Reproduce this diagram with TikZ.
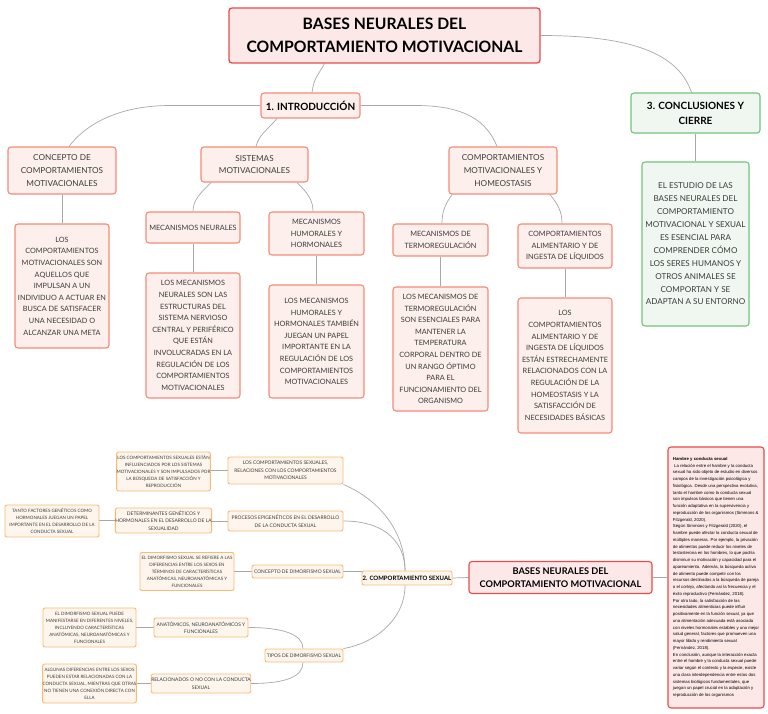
\documentclass[tikz,border=0pt]{standalone}
\usepackage{fontspec}
\setmainfont{Lato}
\newfontfamily\notefont{Liberation Sans}
\pgfdeclarelayer{bg}
\pgfsetlayers{bg,main}
\definecolor{redB}{HTML}{E84B4B}
\definecolor{redF}{HTML}{FDE8E8}
\definecolor{salB}{HTML}{F58A78}
\definecolor{salF}{HTML}{FDF0EC}
\definecolor{grnB}{HTML}{72C47A}
\definecolor{grnF}{HTML}{F0F7F0}
\definecolor{orgB}{HTML}{F9BB74}
\definecolor{orgF}{HTML}{FEF6EC}
\definecolor{lineC}{HTML}{A8A8A8}
\definecolor{txtC}{HTML}{3A3A3A}
\begin{document}
\begin{tikzpicture}[x=1pt,y=-1pt,
  box/.style={rounded corners=3pt, align=center, inner sep=0pt, text=txtC},
  ttl/.style={box, draw=redB, fill=redF, line width=1.3pt, text=black,
    font=\bfseries\fontsize{15.7}{23}\selectfont},
  sec/.style={box, draw=salB, fill=salF, line width=1.1pt, text=black,
    font=\bfseries\fontsize{10}{15}\selectfont},
  grnsec/.style={box, draw=grnB, fill=grnF, line width=1.1pt, text=black,
    font=\bfseries\fontsize{10}{15}\selectfont},
  grntxt/.style={box, draw=grnB, fill=grnF, line width=1.1pt,
    font=\fontsize{8.1}{12.9}\selectfont},
  hdr/.style={box, draw=salB, fill=salF, line width=1.1pt,
    font=\fontsize{8.2}{12.8}\selectfont},
  txt/.style={box, draw=salB, fill=salF, line width=1.1pt,
    font=\fontsize{7.3}{11.6}\selectfont},
  lowhdr/.style={box, rounded corners=2pt, draw=orgB, fill=orgF, line width=0.9pt,
    font=\fontsize{4.9}{7.5}\selectfont},
  lowtxt/.style={box, rounded corners=2pt, draw=orgB, fill=orgF, line width=0.9pt,
    font=\fontsize{4.5}{7}\selectfont},
  lowsec/.style={box, rounded corners=2pt, draw=orgB, fill=orgF, line width=0.9pt, text=black,
    font=\bfseries\fontsize{6}{8}\selectfont},
  redsec/.style={box, draw=redB, fill=redF, line width=1.1pt, text=black,
    font=\bfseries\fontsize{9.2}{13}\selectfont},
  notebox/.style={box, draw=redB, fill=redF, line width=1.1pt, align=left, text=black,
    font=\notefont\fontsize{4.3}{6.75}\selectfont},
  conn/.style={draw=lineC, line width=0.7pt}
]
\useasboundingbox (0,0) rectangle (768,714);

% ---------- upper part ----------
\node[ttl, minimum width=311pt, minimum height=55pt] (title) at (384.5,35.5)
  {BASES NEURALES DEL\\COMPORTAMIENTO MOTIVACIONAL};
\node[sec, minimum width=99pt, minimum height=25pt] (intro) at (310.5,105.5) {1. INTRODUCCIÓN};
\node[grnsec, minimum width=129pt, minimum height=40pt] (concl) at (695.5,113) {3. CONCLUSIONES Y\\CIERRE};
\node[grntxt, minimum width=107pt, minimum height=164pt] (conclTxt) at (695.5,244)
  {EL ESTUDIO DE LAS\\BASES NEURALES DEL\\COMPORTAMIENTO\\MOTIVACIONAL Y SEXUAL\\ES ESENCIAL PARA\\COMPRENDER CÓMO\\LOS SERES HUMANOS Y\\OTROS ANIMALES SE\\COMPORTAN Y SE\\ADAPTAN A SU ENTORNO};

\node[hdr, minimum width=108pt, minimum height=47pt] (concepto) at (62,170.5)
  {CONCEPTO DE\\COMPORTAMIENTOS\\MOTIVACIONALES};
\node[hdr, minimum width=107pt, minimum height=35pt] (sistemas) at (254.5,164.5)
  {SISTEMAS\\MOTIVACIONALES};
\node[hdr, minimum width=108pt, minimum height=47pt] (homeo) at (503,170.5)
  {COMPORTAMIENTOS\\MOTIVACIONALES Y\\HOMEOSTASIS};

\node[txt, minimum width=94pt, minimum height=124pt] (conceptoTxt) at (62,286)
  {LOS\\COMPORTAMIENTOS\\MOTIVACIONALES SON\\AQUELLOS QUE\\IMPULSAN A UN\\INDIVIDUO A ACTUAR EN\\BUSCA DE SATISFACER\\UNA NECESIDAD O\\ALCANZAR UNA META};
\node[txt, minimum width=94pt, minimum height=31pt] (neural) at (193,227.5) {MECANISMOS NEURALES};
\node[txt, minimum width=95pt, minimum height=43pt] (humoral) at (316.5,233.5)
  {MECANISMOS\\HUMORALES Y\\HORMONALES};
\node[txt, minimum width=94pt, minimum height=125pt] (neuralTxt) at (193,335.5)
  {LOS MECANISMOS\\NEURALES SON LAS\\ESTRUCTURAS DEL\\SISTEMA NERVIOSO\\CENTRAL Y PERIFÉRICO\\QUE ESTÁN\\INVOLUCRADAS EN LA\\REGULACIÓN DE LOS\\COMPORTAMIENTOS\\MOTIVACIONALES};
\node[txt, minimum width=95pt, minimum height=113pt] (humoralTxt) at (316.5,341.5)
  {LOS MECANISMOS\\HUMORALES Y\\HORMONALES TAMBIÉN\\JUEGAN UN PAPEL\\IMPORTANTE EN LA\\REGULACIÓN DE LOS\\COMPORTAMIENTOS\\MOTIVACIONALES};
\node[txt, minimum width=95pt, minimum height=32pt] (termo) at (440.5,240)
  {MECANISMOS DE\\TERMOREGULACIÓN};
\node[txt, minimum width=94pt, minimum height=44pt] (alim) at (565,246)
  {COMPORTAMIENTOS\\ALIMENTARIO Y DE\\INGESTA DE LÍQUIDOS};
\node[txt, minimum width=95pt, minimum height=124pt] (termoTxt) at (440.5,349)
  {LOS MECANISMOS DE\\TERMOREGULACIÓN\\SON ESENCIALES PARA\\MANTENER LA\\TEMPERATURA\\CORPORAL DENTRO DE\\UN RANGO ÓPTIMO\\PARA EL\\FUNCIONAMIENTO DEL\\ORGANISMO};
\node[txt, minimum width=94pt, minimum height=135pt] (alimTxt) at (565,365.5)
  {LOS\\COMPORTAMIENTOS\\ALIMENTARIO Y DE\\INGESTA DE LÍQUIDOS\\ESTÁN ESTRECHAMENTE\\RELACIONADOS CON LA\\REGULACIÓN DE LA\\HOMEOSTASIS Y LA\\SATISFACCIÓN DE\\NECESIDADES BÁSICAS};

% ---------- lower part ----------
\node[lowhdr, minimum width=115pt, minimum height=27pt] (sexRel) at (285.5,470.5)
  {LOS COMPORTAMIENTOS SEXUALES,\\RELACIONES CON LOS COMPORTAMIENTOS\\MOTIVACIONALES};
\node[lowtxt, minimum width=93pt, minimum height=39pt] (sexTxt) at (163.5,471.5)
  {LOS COMPORTAMIENTOS SEXUALES ESTÁN\\INFLUENCIADOS POR LOS SISTEMAS\\MOTIVACIONALES Y SON IMPULSADOS POR\\LA BÚSQUEDA DE SATISFACCIÓN Y\\REPRODUCCIÓN};
\node[lowhdr, minimum width=115pt, minimum height=20pt] (epi) at (285.5,521)
  {PROCESOS EPIGENÉTICOS EN EL DESARROLLO\\DE LA CONDUCTA SEXUAL};
\node[lowhdr, minimum width=93pt, minimum height=25pt] (det) at (163.5,520.5)
  {DETERMINANTES GENÉTICOS Y\\HORMONALES EN EL DESARROLLO DE LA\\SEXUALIDAD};
\node[lowtxt, minimum width=94pt, minimum height=32pt] (tanto) at (52,521)
  {TANTO FACTORES GENÉTICOS COMO\\HORMONALES JUEGAN UN PAPEL\\IMPORTANTE EN EL DESARROLLO DE LA\\CONDUCTA SEXUAL};
\node[lowhdr, minimum width=91pt, minimum height=13pt] (cdim) at (297.5,571.5)
  {CONCEPTO DE DIMORFISMO SEXUAL};
\node[lowtxt, minimum width=94pt, minimum height=38pt] (cdimTxt) at (187,571.5)
  {EL DIMORFISMO SEXUAL SE REFIERE A LAS\\DIFERENCIAS ENTRE LOS SEXOS EN\\TÉRMINOS DE CARACTERÍSTICAS\\ANATÓMICAS, NEUROANATÓMICAS Y\\FUNCIONALES};
\node[lowsec, minimum width=90pt, minimum height=14pt] (comp2) at (407,578) {2. COMPORTAMIENTO SEXUAL};
\node[redsec, minimum width=183pt, minimum height=32pt] (bases2) at (560.5,577.5)
  {BASES NEURALES DEL\\COMPORTAMIENTO MOTIVACIONAL};
\node[lowhdr, minimum width=78pt, minimum height=13pt] (tipos) at (304,655.5) {TIPOS DE DIMORFISMO SEXUAL};
\node[lowhdr, minimum width=94pt, minimum height=19pt] (anat) at (201,627.5)
  {ANATÓMICOS, NEUROANATÓMICOS Y\\FUNCIONALES};
\node[lowhdr, minimum width=94pt, minimum height=19pt] (rel) at (201,683.5)
  {RELACIONADOS O NO CON LA CONDUCTA\\SEXUAL};
\node[lowtxt, minimum width=93pt, minimum height=39pt] (anatTxt) at (89.5,627.5)
  {EL DIMORFISMO SEXUAL PUEDE\\MANIFESTARSE EN DIFERENTES NIVELES,\\INCLUYENDO CARACTERÍSTICAS\\ANATÓMICAS, NEUROANATÓMICAS Y\\FUNCIONALES};
\node[lowtxt, minimum width=93pt, minimum height=39pt] (relTxt) at (89.5,683.5)
  {ALGUNAS DIFERENCIAS ENTRE LOS SEXOS\\PUEDEN ESTAR RELACIONADAS CON LA\\CONDUCTA SEXUAL, MIENTRAS QUE OTRAS\\NO TIENEN UNA CONEXIÓN DIRECTA CON\\ELLA};

\node[notebox, minimum width=96pt, minimum height=261pt] (note) at (716,577.5)
  {\textbf{Hambre y conducta sexual}\\
  \hspace{1.2pt}La relación entre el hambre y la conducta\\
  sexual ha sido objeto de estudio en diversos\\
  campos de la investigación psicológica y\\
  fisiológica. Desde una perspectiva evolutiva,\\
  tanto el hambre como la conducta sexual\\
  son impulsos básicos que tienen una\\
  función adaptativa en la supervivencia y\\
  reproducción de los organismos (Simmons \&\\
  Fitzgerald, 2020).\\
  Según Simmons y Fitzgerald (2020), el\\
  hambre puede afectar la conducta sexual de\\
  múltiples maneras. Por ejemplo, la privación\\
  de alimentos puede reducir los niveles de\\
  testosterona en los hombres, lo que podría\\
  disminuir su motivación y capacidad para el\\
  apareamiento. Además, la búsqueda activa\\
  de alimento puede competir con los\\
  recursos destinados a la búsqueda de pareja\\
  o el cortejo, afectando así la frecuencia y el\\
  éxito reproductivo (Fernández, 2018).\\
  Por otro lado, la satisfacción de las\\
  necesidades alimenticias puede influir\\
  positivamente en la función sexual, ya que\\
  una alimentación adecuada está asociada\\
  con niveles hormonales estables y una mejor\\
  salud general, factores que promueven una\\
  mayor libido y rendimiento sexual\\
  (Fernández, 2018).\\
  En conclusión, aunque la interacción exacta\\
  entre el hambre y la conducta sexual puede\\
  variar según el contexto y la especie, existe\\
  una clara interdependencia entre estos dos\\
  sistemas biológicos fundamentales, que\\
  juegan un papel crucial en la adaptación y\\
  reproducción de los organismos};

% ---------- connectors ----------
\begin{pgfonlayer}{bg}
\fill[white] (0,0) rectangle (768,714);
\draw[conn] ([xshift=-60pt]title.south) .. controls +(-8,14) and +(2,-14) .. ([xshift=1.5pt]intro.north);
\draw[conn] (title.east) .. controls +(100,0) and +(-12,-35) .. ([xshift=-4pt]concl.north);
\draw[conn] (intro.west) -- ++(-90,0) .. controls +(-55,0) and +(15,-20) .. ([xshift=7pt]concepto.north);
\draw[conn] (intro.east) -- ++(55,0) .. controls +(50,0) and +(-10,-25) .. ([xshift=-6pt]homeo.north);
\draw[conn] ([xshift=-33.5pt]intro.south) .. controls +(-10,12) and +(3,-12) .. ([xshift=1.5pt]sistemas.north);
\draw[conn] ([xshift=-43.5pt]sistemas.south) .. controls +(-10,10) and +(0,-12) .. (neural.north);
\draw[conn] ([xshift=42.5pt]sistemas.south) .. controls +(10,10) and +(0,-12) .. ([xshift=-3.5pt]humoral.north);
\draw[conn] ([xshift=-51pt]homeo.south) .. controls +(-7,10) and +(0,-12) .. ([xshift=1.5pt]termo.north);
\draw[conn] ([xshift=47pt]homeo.south) .. controls +(8,10) and +(0,-12) .. ([xshift=-3pt]alim.north);
\draw[conn] (concepto.south) -- (conceptoTxt.north);
\draw[conn] (neural.south) -- (neuralTxt.north);
\draw[conn] (humoral.south) -- (humoralTxt.north);
\draw[conn] (termo.south) -- (termoTxt.north);
\draw[conn] (alim.south) -- (alimTxt.north);
\draw[conn] (concl.south) -- (conclTxt.north);

\draw[conn] (sexRel.west) -- (sexTxt.east |- sexRel.west);
\draw[conn] (epi.west) -- (det.east |- epi.west);
\draw[conn] (det.west) -- (tanto.east |- det.west);
\draw[conn] (cdim.west) -- (cdimTxt.east);
\draw[conn] (anat.west) -- (anatTxt.east);
\draw[conn] (rel.west) -- (relTxt.east);
\draw[conn] (cdim.east) -- (cdim.east -| comp2.west);
\draw[conn] (comp2.east) -- (bases2.west);
\draw[conn] (bases2.east) -- (note.west);
\draw[conn] (sexRel.south east) .. controls +(35,15) and +(0,-40) .. ([xshift=-2pt]comp2.north);
\draw[conn] (epi.east) .. controls +(45,0) and +(0,-25) .. ([xshift=-2pt]comp2.north);
\draw[conn] ([xshift=-2pt]comp2.south) .. controls +(0,35) and +(30,-5) .. (tipos.north east);
\draw[conn] (anat.east) .. controls +(35,0) and +(0,-14) .. ([xshift=-1pt]tipos.north);
\draw[conn] (rel.east) .. controls +(35,0) and +(0,14) .. ([xshift=-1pt]tipos.south);
\end{pgfonlayer}
\end{tikzpicture}
\end{document}
